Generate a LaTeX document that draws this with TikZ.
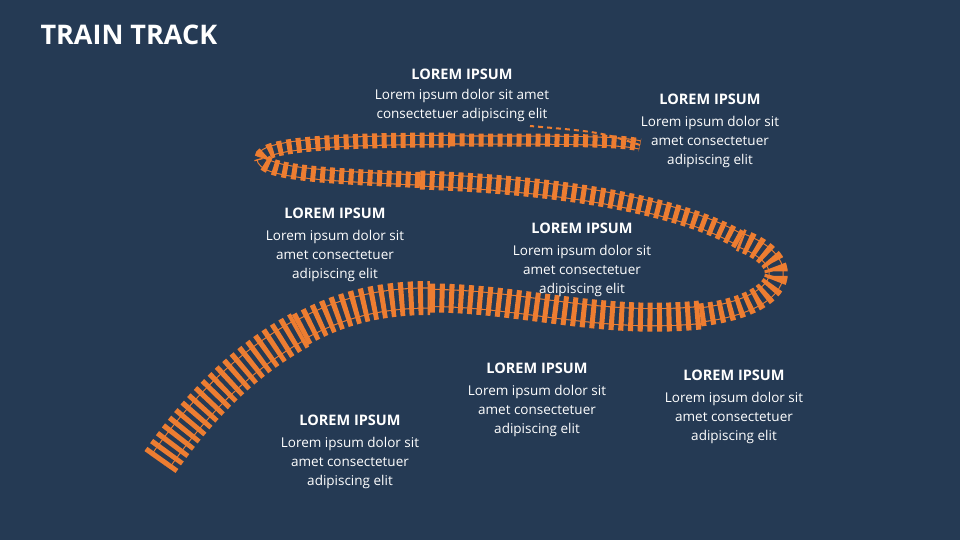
\documentclass[tikz,border=0pt]{standalone}
\usepackage{fontspec}
\setmainfont{Open Sans}
\definecolor{bg}{HTML}{253A54}
\definecolor{trk}{HTML}{ED7D31}
\begin{document}
\begin{tikzpicture}[x=1pt,y=-1pt,
  head/.style={text=white,font=\bfseries\fontsize{14.5}{18}\selectfont,anchor=center},
  body/.style={text=white,font=\fontsize{13.5}{19}\selectfont,align=center,anchor=north},
  ties/.style={trk,line width=#1,dash pattern=on 5pt off 4.5pt},
  rails/.style={trk,line width=1.1pt,double=bg,double distance=#1}]
\fill[bg] (0,0) rectangle (960,540);
\useasboundingbox (0,0) rectangle (960,540);
\node[text=white,font=\bfseries\fontsize{27}{32}\selectfont,anchor=west] (title) at (37,35) {TRAIN TRACK};
% track segments
\def\seg#1#2#3{\draw[rails=#2] #1; \draw[ties=#3] #1;}
\seg{(160,462) .. controls (200,405) and (245,360) .. (300,330)}{21}{38}
\seg{(300,330) .. controls (340,308) and (380,298) .. (430,298)}{19}{34}
\seg{(430,298) .. controls (520,298) and (600,325) .. (700,315)}{16}{29}
\seg{(700,315) .. controls (785,305) and (800,262) .. (740,240)}{13}{23}
\seg{(740,240) .. controls (680,205) and (560,185) .. (420,180)}{11}{19}
\seg{(420,180) .. controls (320,176) and (262,172) .. (262,158)}{9}{16}
\seg{(262,158) .. controls (262,145) and (330,140) .. (450,140)}{8}{15}
\seg{(450,140) .. controls (560,140) and (620,140) .. (640,145)}{7}{13}
\coordinate (e1) at (640,145);
\coordinate (e2) at (530,126);
\draw[trk,line width=2pt,dash pattern=on 5pt off 4pt] (e1) .. controls (600,132) .. (e2);
% text blocks
\node[head] (ha) at (462,74) {LOREM IPSUM};
\node[body] (ta) at (462,86) {Lorem ipsum dolor sit amet\\consectetuer adipiscing elit};
\foreach \n/\x/\y in {b/710/99,c/335/213,d/582/228,e/537/368,f/734/375,g/350/420}{
  \node[head] (h\n) at (\x,\y) {LOREM IPSUM};
  \node[body] (t\n) at (\x,\y+14) {Lorem ipsum dolor sit\\amet consectetuer\\adipiscing elit};
}
\end{tikzpicture}
\end{document}
